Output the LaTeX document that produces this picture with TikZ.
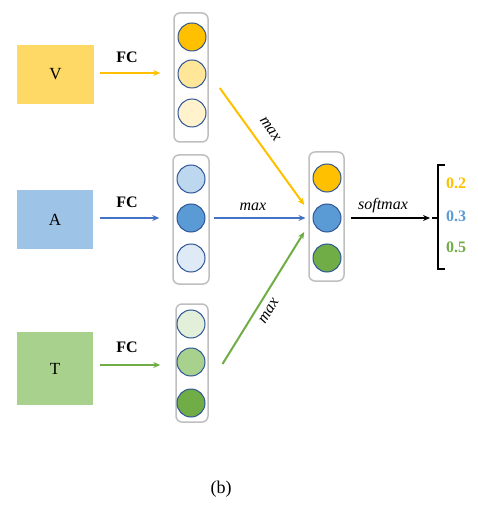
\documentclass[tikz,border=0pt]{standalone}
\usepackage{fontspec}
\setmainfont{Liberation Serif}
\usetikzlibrary{arrows.meta}
\definecolor{vfill}{HTML}{FFD966}
\definecolor{afill}{HTML}{9DC3E6}
\definecolor{tfill}{HTML}{A9D18E}
\definecolor{yel}{HTML}{FFC000}
\definecolor{yel2}{HTML}{FFE699}
\definecolor{yel3}{HTML}{FFF2CC}
\definecolor{blu}{HTML}{5B9BD5}
\definecolor{blu2}{HTML}{BDD7EE}
\definecolor{blu3}{HTML}{DEEBF7}
\definecolor{bluarr}{HTML}{4472C4}
\definecolor{grn}{HTML}{70AD47}
\definecolor{grn2}{HTML}{A9D18E}
\definecolor{grn3}{HTML}{E2F0D9}
\definecolor{cborder}{HTML}{2F5597}
\definecolor{colborder}{HTML}{BFBFBF}
\tikzset{
  inbox/.style={rectangle, draw=none, inner sep=0pt, font=\fontsize{17}{19}\selectfont},
  colbox/.style={rectangle, draw=colborder, line width=1.5pt, rounded corners=6pt, fill=white, inner sep=0pt},
  unit/.style={circle, draw=cborder, line width=1pt, minimum size=28pt, inner sep=0pt},
  arr/.style={line width=2pt, -{Stealth[length=7pt,width=6pt]}},
  fclab/.style={font=\bfseries\fontsize{16}{18}\selectfont},
  maxlab/.style={font=\itshape\fontsize{16}{18}\selectfont},
  numlab/.style={font=\bfseries\fontsize{16}{18}\selectfont},
}
\begin{document}
\begin{tikzpicture}[x=1pt,y=-1pt]
\useasboundingbox (0,0) rectangle (477,510);
% input boxes
\node[inbox, fill=vfill, minimum width=77pt, minimum height=59pt] (V) at (55.5,74.5) {V};
\node[inbox, fill=afill, minimum width=76pt, minimum height=59pt] (A) at (55,219.5) {A};
\node[inbox, fill=tfill, minimum width=76pt, minimum height=73pt] (T) at (55,368.5) {T};
% columns
\node[colbox, minimum width=34pt, minimum height=129pt] (c1) at (191,77.5) {};
\node[colbox, minimum width=36pt, minimum height=129pt] (c2) at (191,219.5) {};
\node[colbox, minimum width=32pt, minimum height=118pt] (c3) at (192,363) {};
\node[colbox, minimum width=35pt, minimum height=129pt] (c4) at (326.5,216.5) {};
% units
\node[unit, fill=yel] (v1) at (192,37) {};
\node[unit, fill=yel2] (v2) at (192,74) {};
\node[unit, fill=yel3] (v3) at (192,113) {};
\node[unit, fill=blu2] (a1) at (191,179) {};
\node[unit, fill=blu] (a2) at (191,218) {};
\node[unit, fill=blu3] (a3) at (191,258) {};
\node[unit, fill=grn3] (t1) at (191,324) {};
\node[unit, fill=grn2] (t2) at (191,362) {};
\node[unit, fill=grn] (t3) at (191,403) {};
\node[unit, fill=yel] (o1) at (327,178) {};
\node[unit, fill=blu] (o2) at (327,218) {};
\node[unit, fill=grn] (o3) at (327,258) {};
% FC arrows
\draw[arr, yel] ([shift={(6,-1.5)}]V.east) -- ([shift={(-13,-4.5)}]c1.west);
\node[fclab] (fc1) at (127,57) {FC};
\draw[arr, bluarr] ([shift={(7,-1.5)}]A.east) -- ([shift={(-13,-1.5)}]c2.west);
\node[fclab] (fc2) at (127,202) {FC};
\draw[arr, grn] ([shift={(7,-3.5)}]T.east) -- ([shift={(-15,2)}]c3.west);
\node[fclab] (fc3) at (127,347) {FC};
% max arrows
\draw[arr, yel] ([shift={(11,10.5)}]c1.east) -- ([shift={(-4,-11.5)}]c4.west);
\node[maxlab, rotate=-55] (m1) at (270,129) {max};
\draw[arr, bluarr, shorten <=8pt, shorten >=7pt] (a2.east) -- (o2.west);
\node[maxlab] (m2) at (253,207) {max};
\draw[arr, grn] ([shift={(17,2)}]t2.east) -- ([shift={(-4,15.5)}]c4.west);
\node[maxlab, rotate=58] (m3) at (269,311) {max};
% softmax
\coordinate (br) at (432,218);
\draw[line width=1.4pt] (445,165) -- (438,165) -- (438,269) -- (445,269);
\draw[line width=1.4pt] (br) -- (438,218);
\draw[line width=1.8pt, -{Stealth[length=7pt,width=6pt]}, shorten <=9pt] (o2.east) -- ([xshift=-2pt]br);
\node[maxlab] (sm) at (383,206) {softmax};
\node[numlab, text=yel] (n1) at (456,183) {0.2};
\node[numlab, text=blu] (n2) at (456,216) {0.3};
\node[numlab, text=grn] (n3) at (456,247) {0.5};
\node[font=\fontsize{18}{20}\selectfont] (cap) at (221,489) {(b)};
\end{tikzpicture}
\end{document}
